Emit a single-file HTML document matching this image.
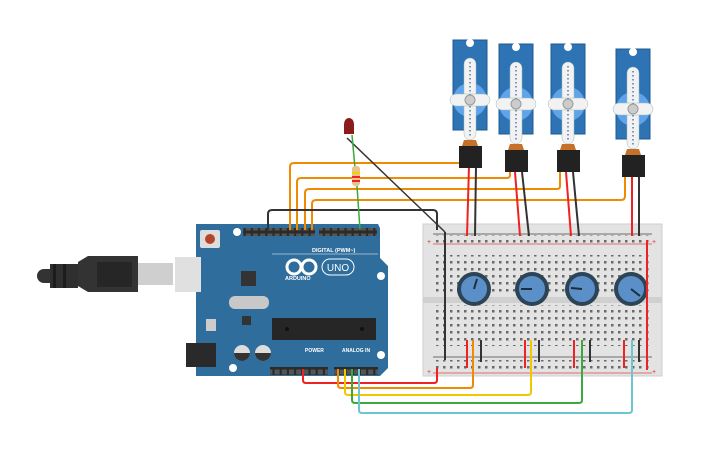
<!DOCTYPE html>
<html><head><style>body{margin:0;background:#fff}svg{display:block}</style></head><body>
<svg width="725" height="453" viewBox="0 0 725 453" xmlns="http://www.w3.org/2000/svg" font-family="Liberation Sans, sans-serif">
<defs>
<pattern id="holes" x="0" y="0" width="7" height="7" patternUnits="userSpaceOnUse"><rect x="2" y="2" width="2.5" height="2.5" fill="#6a6a6a"/></pattern>
<pattern id="pins" x="0" y="0" width="7.2" height="8" patternUnits="userSpaceOnUse"><rect x="1" y="1.5" width="5" height="5" fill="#555"/></pattern>
<g id="servo">
<rect x="-17" y="-60" width="34" height="90" fill="#2e74b5" stroke="#1f5a91"/>
<circle cx="0" cy="-57" r="4" fill="#fff"/>
<circle cx="0" cy="0" r="17" fill="#5fa4ea"/>
<rect x="-6" y="-42" width="12" height="82" rx="6" fill="#f2f2f2" stroke="#9bb" stroke-width="0.5"/>
<rect x="-20" y="-6" width="40" height="12" rx="6" fill="#f2f2f2" stroke="#9bb" stroke-width="0.5"/>
<line x1="0" y1="-38" x2="0" y2="36" stroke="#5577aa" stroke-width="1.5" stroke-dasharray="1.5 2.5"/>
<circle cx="0" cy="0" r="5" fill="#ccc" stroke="#999"/>
<path d="M-6 40 L-8 46 H8 L6 40Z" fill="#c7702a"/>
<rect x="-11" y="46" width="23" height="22" fill="#222"/>
</g>
</defs>
<!-- USB cable -->
<rect x="37" y="269" width="20" height="14" rx="7" fill="#333"/>
<rect x="50" y="264" width="28" height="24" fill="#2f2f2f"/>
<rect x="53" y="264" width="3" height="24" fill="#1c1c1c"/><rect x="63" y="264" width="3" height="24" fill="#1c1c1c"/>
<path d="M78 262 L88 256 L138 256 L138 292 L88 292 L78 286Z" fill="#333"/>
<rect x="97" y="262" width="35" height="25" fill="#262626"/>
<rect x="138" y="263" width="35" height="22" fill="#cfcfcf"/>
<!-- Arduino board -->
<path d="M196 224 L378 224 L380 228 L380 258 L388 266 L388 368 L380 376 L196 376 Z" fill="#2f6d9c"/>
<rect x="175" y="257" width="26" height="35" fill="#e0e0e0"/>
<rect x="200" y="230" width="20" height="18" rx="2" fill="#ddd"/><circle cx="210" cy="239" r="5" fill="#b5442c"/>
<circle cx="237" cy="232" r="4" fill="#fff"/><circle cx="381" cy="276" r="4" fill="#fff"/><circle cx="381" cy="355" r="4" fill="#fff"/><circle cx="233" cy="368" r="4" fill="#fff"/>
<rect x="243" y="228" width="72" height="8" fill="#2b2b2b"/><rect x="243" y="228" width="72" height="8" fill="url(#pins)"/>
<rect x="319" y="228" width="58" height="8" fill="#2b2b2b"/><rect x="319" y="228" width="58" height="8" fill="url(#pins)"/>
<text x="312" y="252" font-size="5.5" fill="#fff" font-weight="bold">DIGITAL (PWM~)</text>
<line x1="272" y1="254" x2="378" y2="254" stroke="#fff" stroke-width="0.6"/>
<circle cx="294" cy="267" r="7" fill="none" stroke="#fff" stroke-width="3"/><circle cx="309" cy="267" r="7" fill="none" stroke="#fff" stroke-width="3"/>
<text x="285" y="280" font-size="5.5" fill="#fff" font-weight="bold">ARDUINO</text>
<rect x="322" y="259" width="32" height="16" rx="8" fill="none" stroke="#fff" stroke-width="1"/>
<text x="338" y="271" font-size="10" fill="#fff" text-anchor="middle">UNO</text>
<rect x="241" y="271" width="15" height="15" fill="#333"/>
<rect x="229" y="296" width="40" height="13" rx="6" fill="#c8c8c8"/>
<rect x="242" y="316" width="9" height="9" fill="#333"/>
<rect x="206" y="319" width="10" height="12" fill="#ccc"/>
<rect x="272" y="318" width="104" height="22" fill="#262626"/>
<circle cx="287" cy="329" r="2" fill="#111"/><circle cx="362" cy="329" r="2" fill="#111"/>
<rect x="186" y="343" width="30" height="24" fill="#2a2a2a"/>
<circle cx="242" cy="353" r="8" fill="#ddd"/><path d="M234 353 A8 8 0 0 0 250 353Z" fill="#333"/>
<circle cx="263" cy="353" r="8" fill="#ddd"/><path d="M255 353 A8 8 0 0 0 271 353Z" fill="#333"/>
<text x="305" y="352" font-size="5" fill="#fff" font-weight="bold">POWER</text>
<text x="342" y="352" font-size="5" fill="#fff" font-weight="bold">ANALOG IN</text>
<rect x="270" y="367" width="58" height="8" fill="#2b2b2b"/><rect x="270" y="367" width="58" height="8" fill="url(#pins)"/>
<rect x="334" y="367" width="44" height="8" fill="#2b2b2b"/><rect x="334" y="367" width="44" height="8" fill="url(#pins)"/>
<!-- Breadboard -->
<rect x="423" y="224" width="239" height="152" fill="#e3e3e3" stroke="#cfcfcf"/>
<rect x="423" y="297" width="239" height="6" fill="#d0d0d0"/>
<line x1="433" y1="234" x2="652" y2="234" stroke="#444" stroke-width="0.7"/>
<line x1="433" y1="244" x2="652" y2="244" stroke="#d44" stroke-width="0.7"/>
<line x1="433" y1="357" x2="652" y2="357" stroke="#444" stroke-width="0.7"/>
<line x1="433" y1="373" x2="652" y2="373" stroke="#d44" stroke-width="0.7"/>
<rect x="433" y="235" width="218" height="8" fill="url(#holes)"/>
<rect x="433" y="255" width="218" height="41" fill="url(#holes)"/>
<rect x="433" y="305" width="218" height="41" fill="url(#holes)"/>
<rect x="433" y="360" width="218" height="12" fill="url(#holes)"/>
<text x="427" y="244" font-size="7" fill="#d33">+</text><text x="652" y="244" font-size="7" fill="#d33">+</text>
<text x="427" y="374" font-size="7" fill="#d33">+</text><text x="652" y="374" font-size="7" fill="#d33">+</text>
<!-- Pots -->
<g fill="#5b8fc7" stroke="#2c4456" stroke-width="4">
<circle cx="474" cy="289" r="15"/><circle cx="532" cy="289" r="15"/><circle cx="582" cy="289" r="15"/><circle cx="631" cy="289" r="15"/>
</g>
<g stroke="#1d2d3a" stroke-width="2">
<line x1="474" y1="289" x2="477" y2="279"/><line x1="532" y1="289" x2="521" y2="289"/><line x1="582" y1="289" x2="571" y2="288"/><line x1="631" y1="289" x2="640" y2="296"/>
</g>
<!-- Breadboard wires -->
<g fill="none" stroke-width="2">
<path d="M445 232 V360" stroke="#333"/>
<path d="M647 240 V370" stroke="#e22"/>
<path d="M467 340 V368 M525 340 V368 M574 340 V368 M624 340 V368" stroke="#e22"/>
<path d="M481 340 V362 M539 340 V362 M590 340 V362 M639 340 V362" stroke="#333"/>
<path d="M303 369 V380 Q303 383 306 383 H434 Q437 383 437 380 V368" stroke="#e22"/>
<path d="M338 369 V385 Q338 388 341 388 H470 Q473 388 473 385 V340" stroke="#f08a00"/>
<path d="M345 369 V392 Q345 395 348 395 H528 Q531 395 531 392 V340" stroke="#f0c800"/>
<path d="M352 369 V400 Q352 403 355 403 H579 Q582 403 582 400 V340" stroke="#3aaa3a"/>
<path d="M359 369 V410 Q359 413 362 413 H629 Q632 413 632 410 V340" stroke="#6cc6d0"/>
<path d="M290 230 V167 Q290 163 294 163 H460" stroke="#f08a00"/>
<path d="M297 230 V182 Q297 178 301 178 H507 Q510 178 510 175 V170" stroke="#f08a00"/>
<path d="M305 230 V193 Q305 189 309 189 H557 Q560 189 560 186 V170" stroke="#f08a00"/>
<path d="M312 230 V204 Q312 200 316 200 H621 Q625 200 625 196 V175" stroke="#f08a00"/>
<path d="M268 230 V214 Q268 210 272 210 H433 Q437 210 437 214 V230" stroke="#333"/>
<path d="M347 138 L445 232" stroke="#333" stroke-width="1.5"/>
<path d="M352 135 L355 168 M357 186 L360 230" stroke="#3aaa3a" stroke-width="1.5"/>
<path d="M469 166 L467 236 M515 172 L520 236 M566 172 L571 236 M632 177 L632 236" stroke="#e22"/>
<path d="M476 166 L475 236 M522 172 L529 236 M573 172 L579 236 M639 177 L639 236" stroke="#333"/>
</g>
<!-- resistor -->
<rect x="352" y="166" width="8" height="20" rx="3" fill="#e8c48a"/>
<rect x="352" y="172" width="8" height="2" fill="#f0d000"/><rect x="352" y="176" width="8" height="2" fill="#e22"/><rect x="352" y="180" width="8" height="2" fill="#e22"/>
<!-- LED -->
<path d="M344 134 V124 A5 6 0 0 1 354 124 V134 Z" fill="#8a1c1c"/>
<!-- Servos -->
<use href="#servo" x="470" y="100"/>
<use href="#servo" x="516" y="104"/>
<use href="#servo" x="568" y="104"/>
<use href="#servo" x="633" y="109"/>
</svg>
</body></html>
